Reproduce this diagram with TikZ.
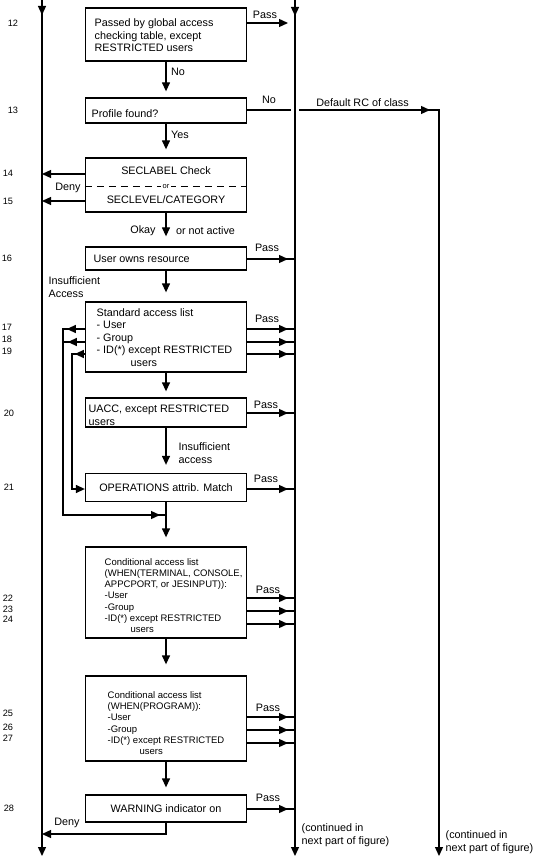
\documentclass[tikz,border=0pt]{standalone}
\usepackage{fontspec}
\setmainfont{Liberation Sans}
\usetikzlibrary{arrows.meta,positioning,calc,decorations.markings}

\begin{document}
\begin{tikzpicture}[x=1pt, y=-1pt, line width=1.3pt,
  >={Triangle[length=9pt,width=8pt]},
  box/.style={draw, minimum width=161pt, inner sep=0pt, align=center, font=\fontsize{10.8}{12.6}\selectfont},
  txt/.style={inner sep=0pt, align=left, anchor=west, font=\fontsize{10.8}{12.6}\selectfont},
  small/.style={txt, font=\fontsize{9.5}{11.2}\selectfont},
  lbl/.style={inner sep=0pt, font=\fontsize{10.8}{13.2}\selectfont},
  num/.style={inner sep=0pt, font=\fontsize{9.2}{10}\selectfont},
  tipat/.style={postaction={decorate, decoration={markings, mark=at position #1 with {\arrow{>}}}}},
]
  \useasboundingbox (0,0) rectangle (535,858);
  % --- main lines ---
  \coordinate (Ltop) at (42,0);  \coordinate (Lbot) at (42,856);
  \coordinate (Mtop) at (295,0); \coordinate (Mbot) at (295,856);
  \coordinate (Rbot) at (439,856);
  \coordinate (ox) at (63,0); \coordinate (ix) at (72,0);
  \draw[->, tipat=15pt] (Ltop) -- (Lbot);
  \draw[->, tipat=16pt] (Mtop) -- (Mbot);
  % --- rows ---
  \coordinate (r12) at (0,23);  \coordinate (r13) at (0,110);
  \coordinate (r14) at (0,174); \coordinate (r15) at (0,201); \coordinate (ror) at (0,187);
  \coordinate (r16) at (0,259);
  \coordinate (r17) at (0,329); \coordinate (r18) at (0,342); \coordinate (r19) at (0,354);
  \coordinate (r20) at (0,413); \coordinate (r21) at (0,489); \coordinate (rl) at (0,515);
  \coordinate (r22) at (0,598); \coordinate (r23) at (0,611); \coordinate (r24) at (0,624);
  \coordinate (r25) at (0,717); \coordinate (r26) at (0,730); \coordinate (r27) at (0,743);
  \coordinate (r28) at (0,809); \coordinate (rd) at (0,834);
  % --- boxes ---
  \node[box, minimum height=53pt] (b12) at (166,34.5) {};
  \node[box, minimum height=25pt] (b13) at (166,110.5) {};
  \node[box, minimum height=54pt] (b14) at (166,185) {SECLABEL Check\\[16pt]SECLEVEL/CATEGORY};
  \node[box, minimum height=23pt] (b16) at (166,258.5) {};
  \node[box, minimum height=70pt] (b17) at (166,337) {};
  \node[box, minimum height=29pt] (b20) at (166,412.5) {};
  \node[box, minimum height=28pt] (b21) at (166,487.5) {OPERATIONS attrib. Match};
  \node[box, minimum height=91pt] (b22) at (166,592.5) {};
  \node[box, minimum height=85pt] (b25) at (166,718.5) {};
  \node[box, minimum height=27pt] (b28) at (166,808.5) {WARNING indicator on};
  \draw[line width=1pt, dash pattern=on 7pt off 5pt] (ror -| b14.west) -- (ror -| b14.east);
  \node[lbl, fill=white, inner xsep=2pt, font=\fontsize{7.5}{8}\selectfont] (or) at (166,187) {or};
  % --- box texts ---
  \node[txt] (t12) at (94,35.5) {Passed by global access\\checking table, except\\RESTRICTED users};
  \node[txt] (t13) at (91,114) {Profile found?};
  \node[txt] (t16) at (93,259) {User owns resource};
  \node[txt] (t17) at (96,337.5) {Standard access list\\- User\\- Group\\- ID(*) except RESTRICTED\\\hspace*{34pt}users};
  \node[txt] (t20) at (88,415) {UACC, except RESTRICTED\\users};
  \node[small] (t22) at (104,595.5) {Conditional access list\\(WHEN(TERMINAL, CONSOLE,\\APPCPORT, or JESINPUT)):\\-User\\-Group\\-ID(*) except RESTRICTED\\\hspace*{26pt}users};
  \node[small] (t25) at (107,723) {Conditional access list\\(WHEN(PROGRAM)):\\-User\\-Group\\-ID(*) except RESTRICTED\\\hspace*{32pt}users};
  % --- flow down ---
  \draw[->, shorten >=6pt] (b12.south) -- (b13.north);
  \draw[->, shorten >=8pt] (b13.south) -- (b14.north);
  \draw[->, shorten >=10pt] (b14.south) -- (b16.north);
  \draw[->, shorten >=9pt] (b16.south) -- (b17.north);
  \draw[->, shorten >=6pt] (b17.south) -- (b20.north);
  \draw[->, shorten >=8pt] (b20.south) -- (b21.north);
  \draw[->, shorten >=9pt] (b21.south) -- (b22.north);
  \draw[->, shorten >=11pt] (b22.south) -- (b25.north);
  \draw[->, shorten >=7pt] (b25.south) -- (b28.north);
  % --- pass exits ---
  \draw[->, shorten >=7pt] (r12 -| b12.east) -- (r12 -| Mtop);
  \draw[tipat=-7pt] (r16 -| b16.east) -- (r16 -| Mtop);
  \draw[tipat=-7pt] (r17 -| b17.east) -- (r17 -| Mtop);
  \draw[tipat=-7pt] (r18 -| b17.east) -- (r18 -| Mtop);
  \draw[tipat=-7pt] (r19 -| b17.east) -- (r19 -| Mtop);
  \draw[tipat=-7pt] (r20 -| b20.east) -- (r20 -| Mtop);
  \draw[tipat=-7pt] (r21 -| b21.east) -- (r21 -| Mtop);
  \draw[tipat=-7pt] (r22 -| b22.east) -- (r22 -| Mtop);
  \draw[tipat=-7pt] (r23 -| b22.east) -- (r23 -| Mtop);
  \draw[tipat=-7pt] (r24 -| b22.east) -- (r24 -| Mtop);
  \draw[tipat=-7pt] (r25 -| b25.east) -- (r25 -| Mtop);
  \draw[tipat=-7pt] (r26 -| b25.east) -- (r26 -| Mtop);
  \draw[tipat=-7pt] (r27 -| b25.east) -- (r27 -| Mtop);
  \draw[tipat=-7pt] (r28 -| b28.east) -- (r28 -| Mtop);
  % --- no profile ---
  \draw (r13 -| b13.east) -- ($(r13 -| Mtop)+(-4,0)$);
  \draw[->, tipat=131pt] ($(r13 -| Mtop)+(4,0)$) -- (r13 -| Rbot) -- (Rbot);
  % --- deny ---
  \draw[->] (r14 -| b14.west) -- (r14 -| Ltop);
  \draw[->] (r15 -| b14.west) -- (r15 -| Ltop);
  \draw[->] (b28.south) -- (b28.south |- rd) -- (rd -| Ltop);
  % --- insufficient access loops ---
  \draw[tipat=18pt, tipat=-6pt] (r17 -| b17.west) -- (r17 -| ox) -- (ox |- rl) -- (rl -| b21.south);
  \draw[tipat=17pt] (r18 -| b17.west) -- (r18 -| ox);
  \draw[->, tipat=10pt] (r19 -| b17.west) -- (r19 -| ix) -- (ix |- r21) -- (r21 -| b21.west);
  % --- labels ---
  \node[lbl] (pass12) at (265,15) {Pass};
  \node[lbl] (no12) at (178,72) {No};
  \node[lbl] (no13) at (269,100) {No};
  \node[lbl] (dflt) at (362.5,102.5) {Default RC of class};
  \node[lbl] (yes13) at (180,135) {Yes};
  \node[lbl] (deny14) at (68,187.5) {Deny};
  \node[lbl] (okay) at (143,231) {Okay};
  \node[lbl] (notact) at (205.5,231) {or not active};
  \node[lbl] (pass16) at (267,248) {Pass};
  \node[lbl, align=left, anchor=west] (insuf16) at (48,287.5) {Insufficient\\Access};
  \node[lbl] (pass17) at (267,319) {Pass};
  \node[lbl] (pass20) at (266,405) {Pass};
  \node[lbl, align=left, anchor=west] (insuf20) at (178,453.5) {Insufficient\\access};
  \node[lbl] (pass21) at (266,479) {Pass};
  \node[lbl] (pass22) at (268,590) {Pass};
  \node[lbl] (pass25) at (268,708) {Pass};
  \node[lbl] (pass28) at (268,798) {Pass};
  \node[lbl] (deny28) at (67,823) {Deny};
  \node[lbl, align=left, anchor=west] (contM) at (301,835) {(continued in\\next part of figure)};
  \node[lbl, align=left, anchor=west] (contR) at (445,842.5) {(continued in\\next part of figure)};
  % --- step numbers ---
  \node[num] (n12) at (13,23) {12};  \node[num] (n13) at (13,110) {13};
  \node[num] (n14) at (8,173) {14};  \node[num] (n15) at (8,201) {15};
  \node[num] (n16) at (7,258) {16};
  \node[num] (n17) at (7,327) {17};  \node[num] (n18) at (7,339) {18};  \node[num] (n19) at (7,351) {19};
  \node[num] (n20) at (9,413) {20};  \node[num] (n21) at (9,487) {21};
  \node[num] (n22) at (8,598) {22};  \node[num] (n23) at (8,609) {23};  \node[num] (n24) at (8,619) {24};
  \node[num] (n25) at (8,713) {25};  \node[num] (n26) at (8,727) {26};  \node[num] (n27) at (8,738) {27};
  \node[num] (n28) at (9,808) {28};
\end{tikzpicture}
\end{document}
